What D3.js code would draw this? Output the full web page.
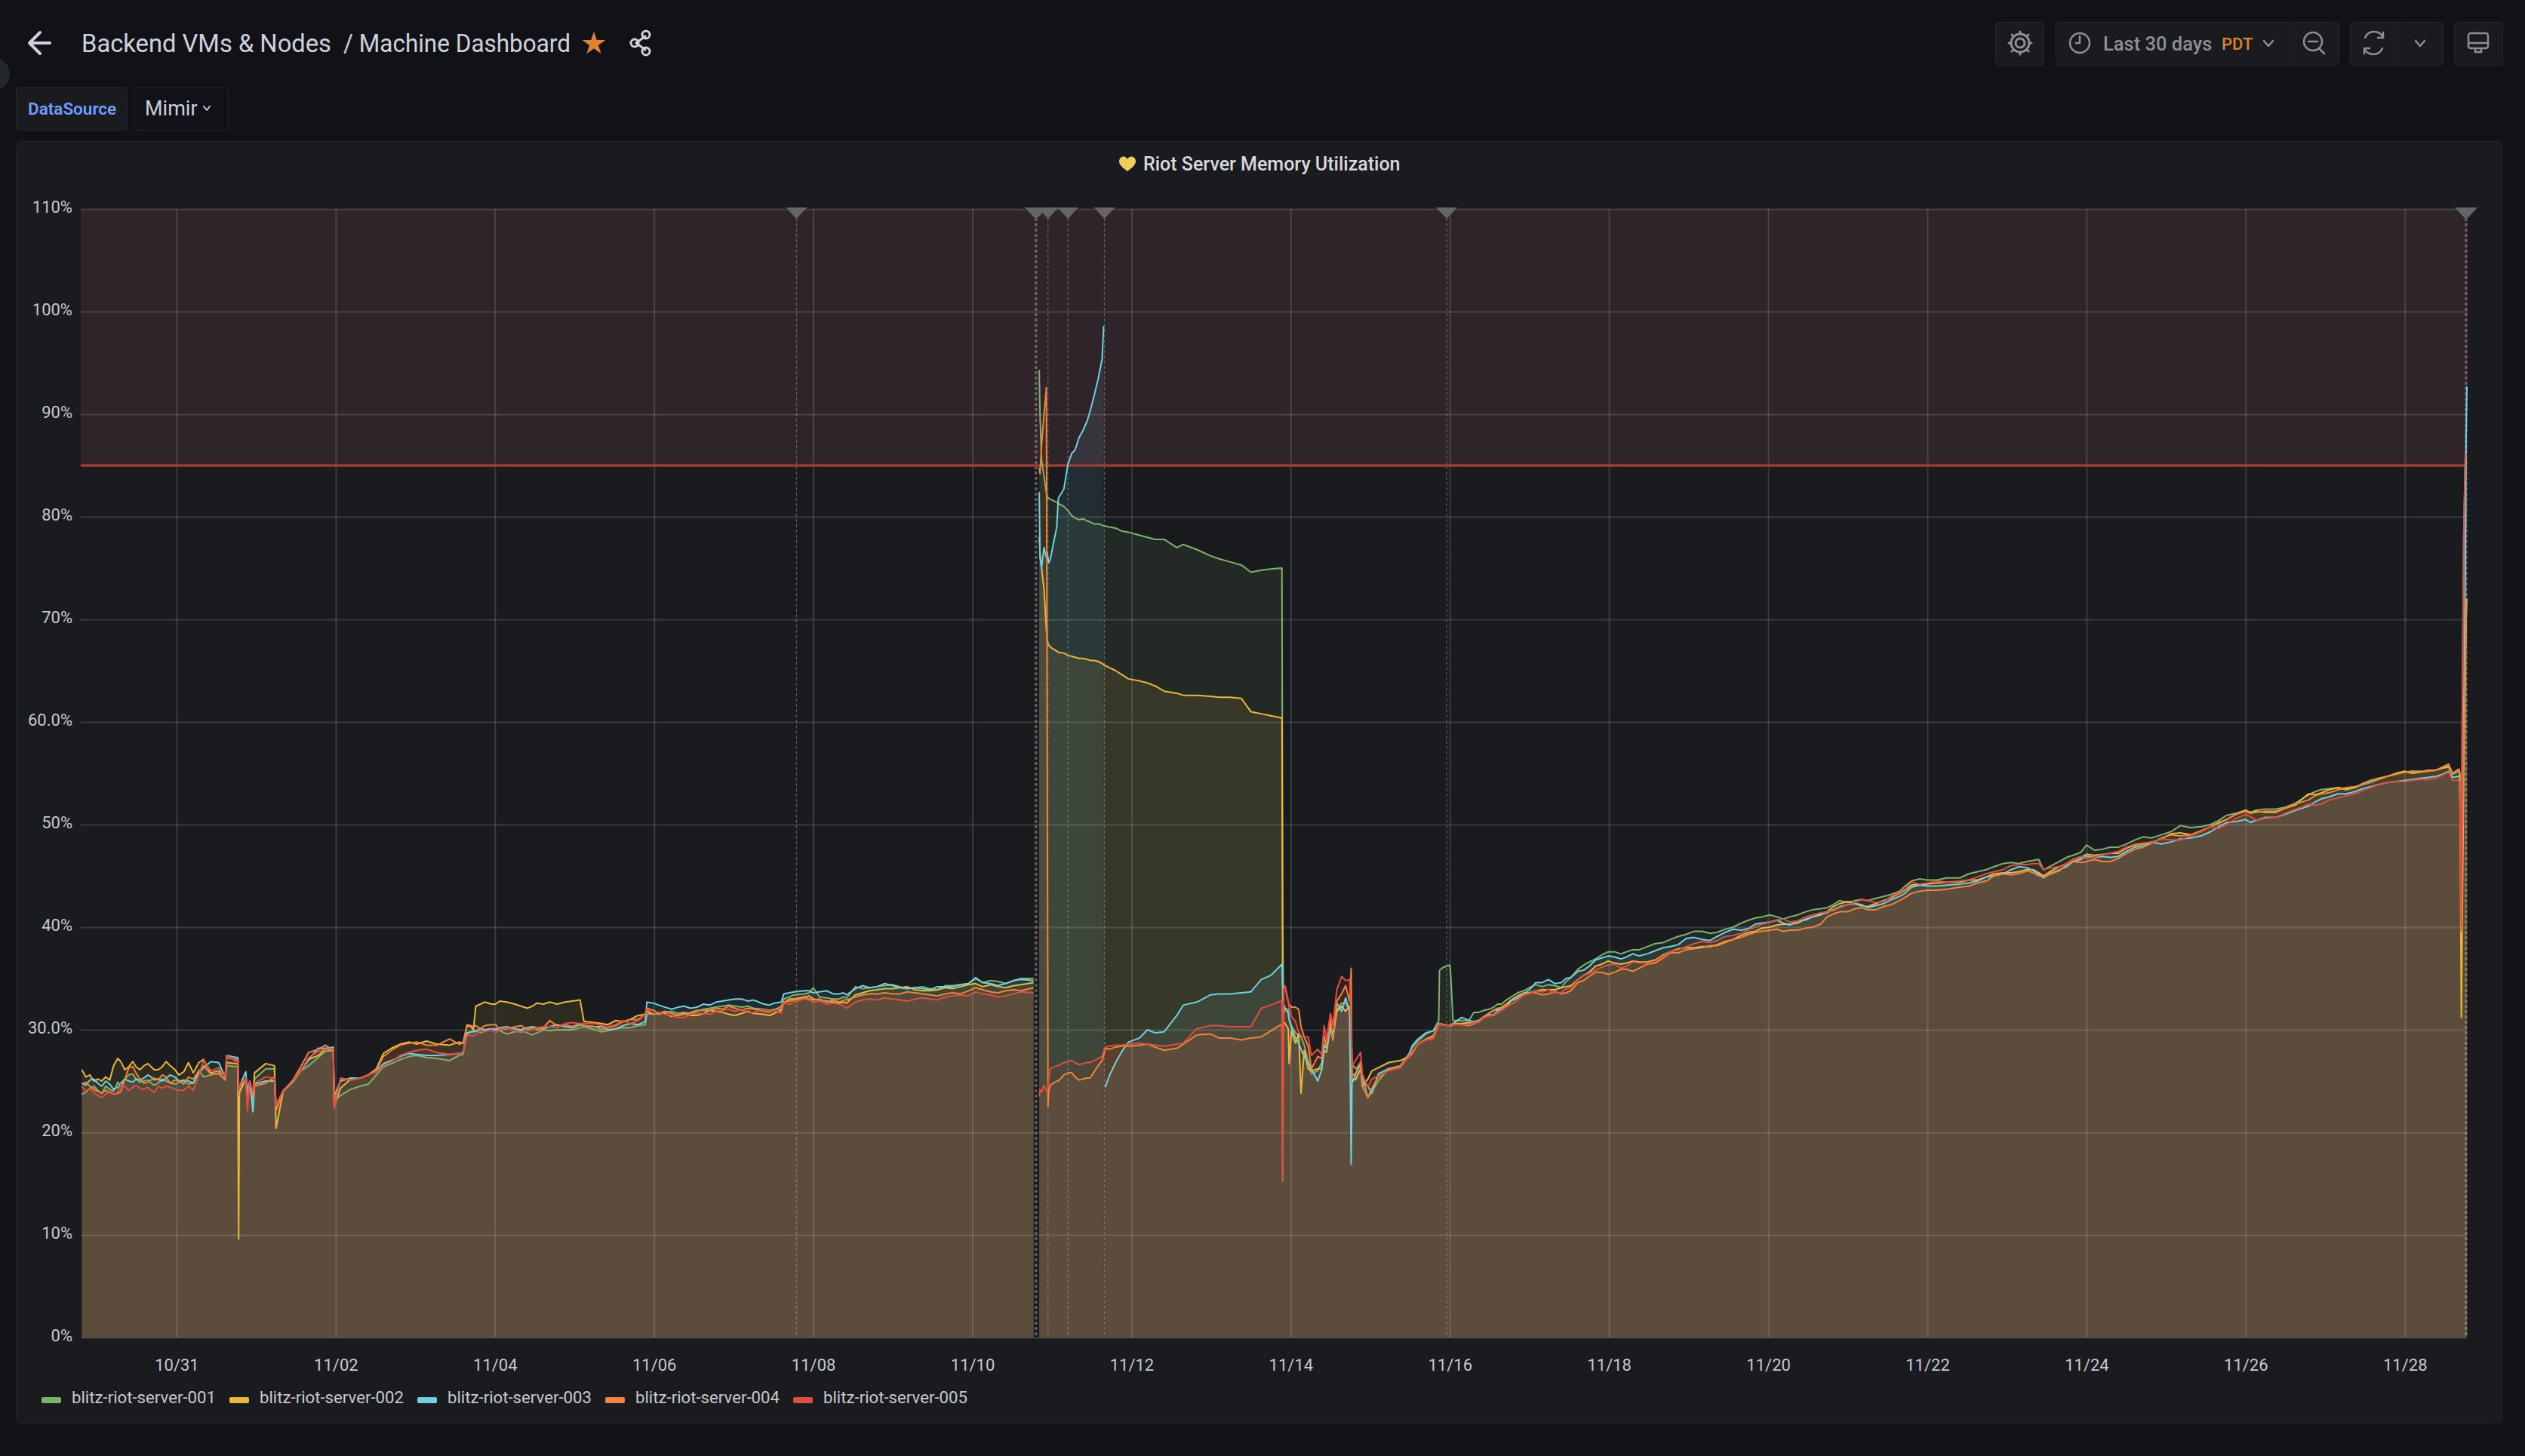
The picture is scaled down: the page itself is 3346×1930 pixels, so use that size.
<!DOCTYPE html>
<html>
<head>
<meta charset="utf-8">
<title>Machine Dashboard</title>
<script src="https://cdnjs.cloudflare.com/ajax/libs/d3/7.8.5/d3.min.js"></script>
<style>
    html, body { margin: 0; padding: 0; background: #111217; overflow: hidden; }
    svg { display: block; }
    text { font-family: Roboto, "Open Sans", sans-serif; }
</style>
</head>
<body>
<svg id="page" width="3346" height="1930"></svg>
<script>
// Days counted from 10/29 00:00, shared by all five servers
const days = [
    0.81, 0.91, 1.01, 1.11, 1.21, 1.3, 1.4, 1.49, 1.59, 1.68,
    1.77, 1.87, 1.98, 2.09, 2.15, 2.21, 2.28, 2.34, 2.43, 2.53,
    2.61, 2.63, 2.75, 2.77, 2.78, 2.79, 2.87, 2.89, 2.92, 2.96,
    2.98, 3.12, 3.23, 3.25, 3.34, 3.47, 3.56, 3.66, 3.78, 3.87,
    3.97, 3.98, 4.06, 4.19, 4.31, 4.41, 4.51, 4.6, 4.7, 4.81,
    4.92, 5.02, 5.14, 5.27, 5.43, 5.55, 5.6, 5.65, 5.7, 5.73,
    5.76, 5.87, 5.96, 6.06, 6.25, 6.41, 6.53, 6.69, 6.88, 7.07,
    7.12, 7.26, 7.42, 7.61, 7.8, 7.89, 7.91, 7.99, 8.14, 8.3,
    8.46, 8.62, 8.78, 8.94, 9.1, 9.25, 9.38, 9.51, 9.6, 9.63,
    9.76, 9.89, 10, 10.08, 10.17, 10.33, 10.42, 10.53, 10.71, 10.9,
    11.09, 11.28, 11.47, 11.66, 11.85, 12.04, 12.23, 12.42, 12.61, 12.77,
    12.82, 12.84, 12.85, 12.87, 12.9, 12.93, 12.94, 12.95, 12.96, 12.98,
    13.06, 13.08, 13.15, 13.2, 13.25, 13.29, 13.34, 13.39, 13.44, 13.48,
    13.53, 13.58, 13.63, 13.65, 13.66, 13.67, 13.72, 13.8, 13.88, 13.96,
    14.1, 14.2, 14.3, 14.41, 14.57, 14.65, 14.82, 14.99, 15.1, 15.24,
    15.38, 15.5, 15.63, 15.75, 15.88, 15.89, 15.9, 15.91, 15.93, 15.97,
    15.98, 16.01, 16.06, 16.1, 16.13, 16.17, 16.22, 16.26, 16.34, 16.39,
    16.42, 16.45, 16.5, 16.53, 16.58, 16.64, 16.69, 16.74, 16.76, 16.77,
    16.82, 16.88, 16.9, 16.97, 17.02, 17.1, 17.23, 17.38, 17.48, 17.53,
    17.6, 17.7, 17.79, 17.86, 17.87, 17.92, 18, 18.01, 18.04, 18.15,
    18.24, 18.3, 18.43, 18.55, 18.65, 18.77, 18.93, 19.08, 19.24, 19.4,
    19.52, 19.61, 19.75, 19.91, 20.07, 20.22, 20.38, 20.58, 20.77, 20.97,
    21.17, 21.36, 21.56, 21.76, 21.92, 22.11, 22.27, 22.47, 22.66, 22.74,
    22.9, 23.09, 23.25, 23.45, 23.65, 23.8, 24, 24.24, 24.41, 24.63,
    24.84, 25.05, 25.25, 25.4, 25.46, 25.66, 25.83, 26, 26.2, 26.4,
    26.61, 26.82, 27.06, 27.31, 27.56, 27.76, 28, 28.13, 28.38, 28.63,
    28.79, 28.95, 29.16, 29.37, 29.57, 29.78, 30, 30.19, 30.39, 30.55,
    30.6, 30.68, 30.69, 30.7, 30.71, 30.72, 30.74, 30.76, 30.77, 30.78,
    // finer readings of the noisy stretches, sorted in later
    0.86, 0.96, 1.06, 1.16, 1.26, 1.35, 1.45, 1.54, 1.64, 1.72,
    1.82, 1.92, 2.03, 5.82, 6.01, 6.15, 6.33, 6.47, 6.61, 6.78,
    6.97, 7.34, 7.52, 7.7, 8.06, 8.22, 8.38, 8.54, 8.7, 8.86,
    9.02, 9.18, 9.45, 9.7, 9.95, 10.25, 10.38, 10.62, 10.8, 11,
    11.18, 11.38, 11.56, 11.75, 11.95, 12.13, 12.32, 12.52, 18.36, 18.49,
    18.6, 18.71, 18.85, 19, 19.16, 19.32, 19.46, 19.68, 19.83, 19.99,
    20.15, 20.3, 20.48, 20.68, 20.87, 21.07, 21.27, 21.46, 21.66, 21.84,
    22.02, 22.19, 22.37, 22.56, 22.82, 23, 23.17, 23.35, 23.55, 23.72,
    23.9, 24.12, 24.52, 24.74, 24.95, 25.15, 25.33, 25.56, 25.75, 25.93,
    26.1, 26.3, 26.5, 26.71, 26.94, 27.18, 27.44, 27.66, 27.88, 28.06,
    28.25, 28.5, 28.71, 28.87, 29.05, 29.26, 29.47, 29.67, 29.89, 30.09,
    30.29, 30.47
];

const server001 = [
    23.7, 24.3, 24.1, 24.5, 24, 24.6, 25.6, 25.2, 25, 24.8,
    24.8, 25, 24.7, 25, 24.7, 24.8, 26, 25.4, 25.6, 25.8,
    25.1, 26.5, 26.4, 26.4, 23.6, 23.8, 25.2, 23.5, 25, 23,
    25.2, 26.2, 26.2, 22.6, 24.1, 25, 26, 26.5, 27.3, 27.9,
    28, 23, 23.6, 24.2, 24.5, 24.7, 25.6, 26.4, 26.7, 27.1,
    27.4, 27.5, 27.3, 27.2, 27, 27.5, 27.6, 29.6, 29.8, 29.9,
    29.9, 29.9, 30, 29.9, 29.8, 29.7, 29.7, 29.9, 30, 30.2,
    30.3, 30, 29.9, 30.2, 30.4, 30.5, 31.5, 31.6, 31.7, 31.6,
    31.6, 32, 32.2, 32.4, 32.2, 32.1, 32, 32, 32, 33,
    33.4, 33.5, 34.1, 33.2, 33.1, 33, 33.1, 34.2, 34.1, 34.3,
    34.2, 34.1, 34, 34.3, 34.4, 35.1, 34.8, 34.5, 35, 35,
    null, 94.3, 90, 85.5, 84, 82.3, 82, 81.9, 81.8, 81.7,
    81.4, 81.3, 81, 80.6, 80.1, 79.9, 79.7, 79.8, 79.6, 79.5,
    79.3, 79.3, 79.2, 79.1, 79.1, 79.1, 79, 78.9, 78.6, 78.5,
    78.2, 78, 77.8, 77.8, 77, 77.3, 76.8, 76.2, 75.9, 75.6,
    75.3, 74.6, 74.8, 74.9, 75, 75, 40, 31.5, 32, 32,
    31, 30.4, 29.7, 29.5, 29.3, 28.5, 26.9, 25.7, 26, 26.8,
    28.6, 28.4, 30.8, 29, 31.9, 32.6, 32.6, 31.9, 31, 26.6,
    26.2, 26.8, 25.5, 23.4, 24, 25, 26.2, 26.5, 27.6, 28.3,
    28.9, 29.6, 29.9, 30.9, 35.8, 36.1, 36.3, 35.5, 30.9, 30.9,
    30.9, 31.7, 31.9, 32.2, 32.5, 33.2, 33.8, 34.4, 34.4, 34.1,
    35.1, 35.9, 36.6, 37.3, 37.6, 37.6, 37.8, 38.4, 38.8, 39.3,
    39.6, 39.5, 40, 40.7, 41, 41, 41, 41.5, 41.8, 41.9,
    42.6, 42.6, 42.6, 43, 43.5, 44.5, 44.6, 44.8, 44.8, 45.4,
    45.9, 46.3, 46.4, 46.6, 45.6, 46.4, 47, 48, 47.6, 47.8,
    48.5, 48.7, 49.3, 49.7, 50, 50.9, 51.4, 51.4, 51.5, 52.1,
    52.9, 53.4, 53.6, 53.6, 54.1, 54.7, 55.1, 55.2, 55.3, 55.8,
    54.9, 55.2, 55, 50, 42, 58, 78, 86, 86, 86,
    23.9, 24.5, 23.8, 24.2, 24.9, 25.2, 25.7, 24.9, 25.1, 24.6,
    25.2, 24.8, 24.9, 29.7, 30.1, 29.6, 29.9, 29.5, 30, 30,
    30, 29.8, 30.1, 30.2, 31.5, 31.8, 31.7, 31.8, 32.1, 32.3,
    32.3, 32.3, 31.9, 33.2, 33.6, 33, 33.2, 34, 34.2, 34.4,
    34, 34.2, 33.9, 34.3, 34.5, 34.6, 34.7, 34.8, 31.7, 32,
    32.5, 32.9, 33.6, 34.1, 34.2, 34.3, 34.7, 36.3, 36.9, 37.6,
    37.4, 37.8, 38.1, 38.5, 39.1, 39.6, 39.4, 39.8, 40.4, 40.9,
    41.2, 40.8, 41.2, 41.7, 42.2, 42.4, 42.7, 42.8, 43.2, 44,
    44.7, 44.6, 45.2, 45.6, 46.2, 46.2, 46.5, 46, 46.8, 47.3,
    47.5, 47.8, 48.1, 48.8, 49, 49.9, 49.8, 50.4, 51.1, 51.2,
    51.5, 51.7, 52.5, 53.2, 53.5, 53.5, 53.9, 54.4, 54.9, 55.2,
    55.2, 55.5
];

const server002 = [
    26.1, 25.6, 25.2, 25.4, 26.5, 26.9, 26.4, 26.4, 26.5, 26.4,
    26.1, 26.9, 26.1, 25.9, 26.8, 25.8, 26.8, 27.1, 25.8, 26,
    25.5, 26.8, 26.7, 26.7, 9.6, 24, 25.3, 24, 24.5, 23.5,
    25.8, 26.7, 26.5, 20.4, 24, 25, 26, 27.1, 27.5, 28.1,
    28, 22.5, 24.3, 25.2, 25.3, 25.6, 26.2, 27.7, 28.2, 28.6,
    28.8, 28.6, 28.9, 28.6, 28.5, 28.8, 28.7, 30.4, 30.3, 30,
    32.3, 32.7, 32.5, 32.8, 32.5, 32.1, 32.6, 32.7, 32.7, 32.9,
    30.8, 30.7, 30.5, 30.8, 31.4, 31.5, 31.8, 31.5, 31.6, 31.4,
    31.4, 31.6, 31.8, 31.5, 31.6, 31.6, 31.5, 31.6, 31.9, 32.6,
    33, 33.2, 33, 32.9, 32.8, 32.6, 32.6, 33.4, 33.8, 34,
    34.1, 33.9, 33.8, 34.1, 34.2, 34.5, 34.4, 34.1, 34.4, 34.6,
    null, 78, 76.5, 75, 73, 69, 68, 67.7, 67.5, 67.3,
    66.9, 66.8, 66.7, 66.5, 66.4, 66.3, 66.2, 66.2, 66.1, 66,
    66, 65.9, 65.7, 65.6, 65.5, 65.5, 65.3, 65, 64.6, 64.2,
    64, 63.8, 63.5, 63, 62.8, 62.6, 62.6, 62.5, 62.4, 62.4,
    62.3, 61, 60.8, 60.6, 60.4, 60.4, 33, 30.8, 30.6, 30.1,
    26.7, 29.9, 28.7, 29.6, 23.8, 28, 26.2, 26, 26.2, 26.2,
    28, 27.8, 30.4, 29.4, 31.8, 32.3, 31.8, 32.3, 31, 25,
    25.2, 26.2, 24.5, 25.2, 26, 26.3, 26.8, 27, 27.4, 27.9,
    28.6, 29.1, 29.4, 30.5, 30.6, 30.5, 30.4, 30.4, 30.6, 30.6,
    30.7, 30.6, 31.3, 31.9, 32.2, 32.9, 33.6, 33.8, 33.9, 34.1,
    34.3, 34.9, 35.6, 36.4, 36.5, 36.5, 36.6, 36.8, 37.6, 38,
    38.1, 38.3, 38.8, 39.5, 39.9, 40.2, 40.3, 40.8, 41.2, 41.5,
    42.3, 42.3, 42, 42.6, 43.3, 44.1, 44.2, 44.4, 44.4, 44.6,
    45.2, 45.3, 45.6, 45.3, 45, 45.9, 46.6, 47.1, 47.1, 47.2,
    48, 48.3, 49.1, 49, 49.8, 50.5, 51.4, 51.3, 51.2, 51.9,
    53, 53.1, 53.6, 53.6, 54.3, 54.7, 55.2, 55.1, 55.3, 55.6,
    55, 55.4, 55, 45, 31.2, 40, 55, 65, 70, 72,
    25.4, 25, 25, 25.1, 27.2, 26.1, 26.9, 26.1, 26.7, 26.1,
    26.4, 26.5, 25.6, 32.5, 32.5, 32.7, 32.3, 32.3, 32.5, 32.5,
    32.8, 30.6, 30.9, 31, 31.7, 31.3, 31.6, 31.4, 31.9, 31.7,
    31.4, 31.8, 31.4, 33, 33.3, 32.7, 32.7, 33.6, 33.9, 34,
    34.2, 33.8, 33.9, 34, 34.4, 34.2, 34.2, 34.3, 30.9, 31.6,
    32, 32.5, 33.3, 33.6, 33.9, 33.9, 34.2, 35.3, 36.2, 36.7,
    36.4, 36.7, 36.6, 37.3, 37.9, 38, 38.1, 38.6, 39.2, 39.6,
    40, 40.3, 40.4, 41, 42, 42.5, 42.1, 42.3, 42.9, 43.6,
    44.2, 44.3, 44.6, 44.9, 45.3, 45.4, 45.6, 45.5, 46.2, 46.8,
    47, 47.2, 47.7, 48.1, 48.6, 49.2, 49.4, 50.2, 51, 51.1,
    51.2, 51.6, 52.5, 52.9, 53.4, 53.4, 54, 54.5, 55, 55,
    55.3, 55.5
];

const server003 = [
    24.8, 25.1, 24.8, 25, 24.2, 24.8, 25, 25.2, 25.3, 25.4,
    25.2, 25.3, 25.4, 25.1, 25, 24.8, 25.8, 26.3, 26.9, 26.8,
    25.4, 27.5, 27.3, 27.3, 24.3, 24.5, 25.9, 24, 25, 22,
    24.7, 25, 25, 22.6, 24, 25.1, 26, 27.1, 28.2, 28.2,
    28.3, 23.5, 25, 25.3, 25.3, 25.6, 26, 26.7, 27, 27.4,
    27.7, 27.6, 27.5, 27.5, 27.6, 27.7, 27.8, 29.7, 29.8, 29.8,
    29.9, 30, 30.1, 30.2, 30.1, 30.2, 30.2, 30.3, 30.3, 30.5,
    30.4, 30.3, 30, 30.4, 30.5, 30.8, 32.7, 32.6, 32.2, 32.2,
    32.1, 32.5, 32.7, 32.9, 33, 32.9, 32.5, 32.6, 32.7, 33.5,
    33.7, 33.8, 33.6, 33.7, 33.8, 33.5, 33.4, 34, 34.1, 34.5,
    34.1, 34.1, 33.9, 34.2, 34.4, 35, 34.5, 34.5, 34.9, 34.8,
    null, 82.4, 76, 75, 77, 76, 76.5, 76, 75.5, 75.9,
    79, 81.8, 82.7, 85.1, 86.2, 86.5, 87.7, 88.4, 89.3, 90.3,
    91.8, 93.4, 95.4, 98.6, null, 24.4, 25.5, 26.8, 27.9, 28.8,
    29.2, 30, 29.7, 29.8, 31.4, 32.4, 32.7, 33.4, 33.5, 33.5,
    33.6, 33.7, 34.9, 35.3, 36.3, 36.4, 34, 32.5, 32.1, 31.6,
    31, 30.2, 29.2, 28.7, 28.1, 27.4, 26.8, 26.2, 25, 26.1,
    28.4, 28.2, 30.1, 29.2, 32.6, 31.8, 33.1, 31.8, 16.9, 24.8,
    25.7, 26.7, 25, 24.5, 23.8, 25.7, 26.2, 26.4, 27.4, 28.5,
    29.1, 29.7, 29.9, 30.4, 30.5, 30.5, 30.4, 30.5, 30.6, 31.2,
    30.9, 30.8, 31.2, 31.4, 32, 32.8, 33.5, 34.6, 34.9, 34.6,
    35.1, 35.7, 36.2, 37, 37.1, 37.1, 37.2, 37.7, 38.1, 38.9,
    38.8, 39.1, 39.8, 39.9, 40.4, 40.7, 40.2, 40.7, 41.3, 41.4,
    42, 42.3, 41.9, 42.3, 43, 43.9, 44, 44.1, 44.2, 44.5,
    45, 45.6, 45.8, 45.2, 44.8, 45.6, 46.4, 46.9, 46.9, 46.9,
    47.8, 48.3, 48.3, 48.7, 49.3, 50.2, 50.5, 50.4, 50.7, 51.4,
    51.8, 52.5, 53, 53.2, 53.7, 54.1, 54.3, 54.5, 54.7, 55.2,
    54.6, 54.7, 54.6, 50, 41, 47, 60, 75, 88, 92.7,
    24.6, 25.2, 24.5, 24.7, 24.4, 25.2, 24.9, 25.1, 25.6, 25.1,
    25, 25.6, 25, 30.1, 30, 30.3, 30, 30.3, 30.1, 30.5,
    30.2, 30.3, 30.1, 30.6, 32.4, 32, 32.3, 32.2, 32.4, 32.8,
    33, 32.8, 32.4, 33.6, 33.8, 33.5, 33.6, 34.3, 34.2, 34.3,
    34, 34, 34.2, 34.2, 34.5, 34.6, 34.3, 34.8, 30.9, 31.5,
    31.9, 32.3, 33.1, 33.9, 34.6, 34.5, 35, 35.8, 36.8, 37.2,
    36.9, 37.4, 37.4, 38, 38.3, 39, 38.7, 39.5, 39.7, 40.3,
    40.5, 40.4, 40.6, 41, 41.7, 42.2, 42.2, 42.1, 42.7, 43.3,
    44.1, 44, 44.3, 44.9, 45.2, 45.9, 45.5, 45.3, 45.9, 46.6,
    46.8, 46.8, 47.4, 47.9, 48.1, 48.6, 48.9, 49.8, 50.3, 50.2,
    50.7, 51, 51.6, 52.2, 52.7, 53, 53.5, 53.9, 54.2, 54.4,
    54.6, 54.9
];

const server004 = [
    24.7, 24.5, 24, 24.1, 23.7, 24, 26.3, 25.8, 24.8, 25.1,
    25.1, 25.4, 25.1, 24.7, 25.4, 25.2, 26, 26.5, 25.7, 25.7,
    25.2, 27.3, 27.1, 27.1, 23.6, 24.5, 25.1, 22.8, 25, 23.5,
    24.5, 24.8, 25.4, 22.1, 24, 25.2, 26.4, 27.8, 28.1, 28.5,
    28, 22.8, 25.2, 25.1, 25.3, 25.6, 26.1, 27.4, 28, 28.5,
    28.7, 28.8, 28.5, 28.5, 29.1, 28.6, 28.7, 30.5, 30.4, 30.3,
    30.4, 30.4, 30.5, 30, 30.3, 30, 30, 30.9, 30.5, 30.6,
    30.4, 30.3, 30.2, 30.8, 31, 31.6, 32.1, 31.9, 31.8, 31.4,
    31.7, 31.9, 32.1, 32.3, 31.9, 32, 31.8, 31.9, 32.3, 32.7,
    32.9, 33.1, 32.9, 33, 32.7, 32.7, 32.9, 33.2, 33.5, 33.6,
    33.5, 33.6, 33.4, 33.5, 33.5, 34.1, 33.7, 33.8, 33.8, 34.1,
    null, 84.8, 84.2, 87, 90, 92.6, 60, 22.5, 24, 24.6,
    25, 25, 25.6, 25.8, 25.8, 25.4, 25.1, 25.2, 25.3, 25.3,
    25.9, 26.5, 27, 27.5, 27.8, 28.2, 28.1, 28.3, 28.4, 28.4,
    28.5, 28.6, 28.3, 28, 28.2, 28.6, 29.5, 29.6, 29.2, 29.2,
    29, 29.2, 29.3, 29.9, 30.5, 30.3, 15.3, 34, 34.2, 32.7,
    32.5, 32.2, 32.2, 32, 30.3, 29.3, 28.4, 26.2, 27.4, 27.2,
    29.4, 28.4, 31, 29, 32.8, 33.5, 34.3, 32.8, 36, 25.5,
    25.8, 26.9, 24.5, 23.4, 24.3, 25.4, 26.1, 26.5, 27.3, 27.7,
    28.6, 29.1, 29.3, 30.6, 30.6, 30.5, 30.4, 30.4, 30.6, 30.5,
    30.4, 30.6, 31.2, 31.9, 32.1, 32.5, 33.4, 33.6, 33.5, 33.5,
    33.8, 34.6, 35.2, 35.6, 35.6, 35.9, 36, 36.5, 37.5, 37.8,
    38, 38.2, 38.8, 39.3, 39.6, 39.8, 39.7, 39.9, 40.3, 41,
    41.5, 41.8, 41.7, 42, 42.6, 43.3, 43.6, 43.7, 43.9, 44.3,
    45, 45.1, 45.5, 45, 44.9, 45.5, 46.4, 46.4, 46.4, 46.7,
    47.6, 48.2, 49, 49, 49.8, 50.5, 51.3, 51.2, 51.3, 52,
    52.4, 53, 53.4, 53.7, 54.3, 54.7, 55.1, 55.1, 55.3, 55.9,
    55, 55.4, 55, 50, 40, 45, 58, 66, 71.9, 71.9,
    24.9, 24.2, 23.8, 23.9, 23.8, 25.2, 26.4, 25.2, 24.9, 25.3,
    25.6, 24.8, 25, 30.1, 30.5, 30.1, 30.4, 30.2, 30.2, 30.4,
    30.3, 30, 30.4, 31, 31.6, 31.6, 31.5, 31.9, 31.9, 32,
    32.1, 32.1, 31.7, 32.8, 33, 32.9, 32.9, 33.4, 33.5, 33.5,
    33.7, 33.5, 33.3, 33.6, 33.8, 33.9, 33.6, 33.9, 30.9, 31.6,
    32.1, 32.4, 32.9, 33.6, 33.4, 33.7, 33.6, 34.8, 35.6, 35.4,
    35.9, 35.7, 36.4, 37, 37.5, 37.9, 38.2, 38.5, 39, 39.5,
    39.7, 39.6, 39.7, 40, 41.3, 41.5, 41.9, 41.7, 42.2, 42.9,
    43.5, 43.6, 44, 44.5, 45.2, 45.2, 45.3, 45.2, 46.1, 46.3,
    46.6, 46.4, 47.2, 47.8, 48.7, 48.9, 49.4, 50.1, 51, 51.1,
    51.3, 51.6, 52.2, 52.8, 53.1, 53.6, 53.9, 54.4, 54.9, 55.2,
    55.2, 55.6
];

const server005 = [
    24.5, 24.3, 23.6, 23.7, 23.7, 24.7, 24.1, 24.6, 24.2, 24.1,
    24.5, 24.5, 24.2, 24.1, 24.5, 24.1, 25.6, 27, 26, 26.3,
    25.4, 27.5, 26.9, 26.9, 24.1, 24.6, 25.3, 22.1, 25, 24,
    24.8, 25.4, 25.3, 22.6, 24.1, 25.1, 26, 27.3, 27.9, 28.1,
    28.1, 22.3, 25.3, 25.1, 25.3, 25.6, 25.9, 26.5, 26.9, 27.5,
    27.8, 28, 28.1, 27.8, 27.6, 27.7, 27.8, 29.4, 29.5, 29.4,
    29.6, 29.8, 30, 30, 29.9, 29.9, 30.2, 30.3, 30.6, 30.6,
    30.6, 30.6, 30.3, 30.9, 30.9, 31.5, 32, 31.6, 31.5, 31.2,
    31.5, 31.6, 31.8, 32, 32, 31.7, 32, 31.9, 31.6, 32.6,
    32.7, 33, 32.7, 32.8, 32.5, 32.5, 32.1, 32.7, 33, 33.1,
    32.9, 33, 33, 33.2, 33.4, 33.7, 33.4, 33.3, 33.7, 33.6,
    null, 23.5, 24.2, 23.9, 24.6, 24, 23.9, 24.5, 25.2, 26.2,
    26.5, 26.5, 26.8, 26.9, 27, 26.8, 26.6, 26.7, 26.8, 26.8,
    27, 27.2, 27.4, 27.9, 28.2, 28.3, 28.4, 28.5, 28.5, 28.6,
    28.7, 28.6, 28.5, 28.4, 28.6, 28.7, 30.1, 30.4, 30.4, 30.3,
    30.3, 30.3, 32.1, 32.4, 32.8, 32.8, 15.4, 34, 34.3, 32.8,
    32.2, 31.3, 30.8, 29.8, 29.4, 29.3, 29.3, 27.5, 28.1, 27.6,
    30.4, 29.1, 31.6, 30.4, 33.9, 35.2, 34.8, 34.9, 30.4, 26.5,
    27.1, 27.8, 25.7, 24.4, 25.2, 25.5, 26, 26.3, 27.4, 27.9,
    28.6, 29, 29.1, 30.4, 30.5, 30.5, 30.4, 30.3, 30.5, 30.5,
    30.5, 30.7, 31.2, 31.5, 31.9, 32.5, 33.4, 33.8, 33.9, 33.6,
    34.1, 34.9, 35.5, 36.1, 36.4, 36.2, 36.5, 36.7, 37.6, 38.1,
    38.6, 38.7, 39.2, 39.8, 40.3, 40.7, 40.5, 41, 41.4, 41.5,
    41.9, 42.4, 42.6, 42.5, 43.4, 44.4, 44.3, 44.4, 44.5, 44.9,
    45.4, 46, 46.1, 46.2, 45.6, 45.9, 46.6, 46.7, 47.1, 47.4,
    48.1, 48.3, 48.5, 48.9, 49.8, 50, 51, 50.4, 50.7, 51.5,
    52, 52, 52.6, 53, 53.6, 54.1, 54.2, 54.4, 54.5, 55.1,
    54.3, 54.3, 54, 48, 39.6, 60, 78, 86, 86, 86,
    24, 23.9, 23.4, 24, 23.9, 24.5, 24.4, 24.3, 24.4, 23.9,
    24.3, 24.4, 24.1, 29.9, 29.7, 30.2, 29.7, 30, 30.3, 30.2,
    30.7, 30.4, 30.5, 30.6, 31.7, 31.4, 31.2, 31.6, 31.5, 31.9,
    31.8, 31.7, 31.8, 32.5, 32.9, 32.6, 32.3, 32.9, 32.9, 33,
    32.8, 33.1, 32.9, 33.3, 33.3, 33.5, 33.2, 33.5, 30.7, 31.3,
    31.6, 32.2, 32.9, 33.5, 33.7, 33.6, 34, 35.3, 35.8, 36.3,
    36, 36.6, 36.5, 37.2, 37.8, 38.4, 38.5, 39.1, 39.4, 40,
    40.5, 40.8, 40.6, 41.2, 41.6, 42.2, 42.7, 42.4, 43, 43.7,
    44.2, 44.5, 44.6, 45.2, 45.6, 46.1, 46.2, 45.8, 46.2, 46.9,
    46.8, 47.2, 47.8, 48.2, 48.6, 48.5, 49.3, 49.6, 50.6, 50.8,
    50.6, 51.1, 51.7, 51.9, 52.4, 52.8, 53.3, 53.9, 54.2, 54.3,
    54.4, 54.8
];

const seriesNames = ['blitz-riot-server-001', 'blitz-riot-server-002', 'blitz-riot-server-003', 'blitz-riot-server-004', 'blitz-riot-server-005'];
const seriesValues = [server001, server002, server003, server004, server005];
const seriesColors = ['#7eb26d', '#eab839', '#6ed0e0', '#ef843c', '#e24d42'];

const yTicks = [0, 10, 20, 30, 40, 50, 60, 70, 80, 90, 100, 110];
const yTickLabels = ['0%', '10%', '20%', '30.0%', '40%', '50%', '60.0%', '70%', '80%', '90%', '100%', '110%'];
const xTickLabels = ['10/31', '11/02', '11/04', '11/06', '11/08', '11/10', '11/12', '11/14', '11/16', '11/18', '11/20', '11/22', '11/24', '11/26', '11/28'];

const thresholdValue = 85;
const rangeDays = [0.796, 30.78];
const annotationDays = [9.79, 12.79, 12.8, 12.81, 12.95, 13.2, 13.66, 17.96, 30.76, 30.77, 30.78];

const yearStart = Date.UTC(2022, 9, 29);
const toDate = d => new Date(yearStart + d * 86400000);
const parseTick = d3.utcParse('%Y/%m/%d');

const svg = d3.select('#page');

drawHeader();
drawChart();
drawLegend();

function drawChart() {
    const left = 107, right = 3269, top = 277, bottom = 1773;

    // Panel behind the plot
    svg.append('rect')
        .attr('x', 21.5).attr('y', 187.5)
        .attr('width', 3294).attr('height', 1699)
        .attr('rx', 6)
        .attr('fill', '#191b1f')
        .attr('stroke', '#22252a');

    svg.append('path')
        .attr('d', 'M0,-6 c-3,-6 -11,-4 -11,3 c0,5 6,9 11,13 c5,-4 11,-8 11,-13 c0,-7 -8,-9 -11,-3z')
        .attr('transform', 'translate(1494,217)')
        .attr('fill', '#f2cc5c');
    svg.append('text')
        .attr('x', 1515).attr('y', 226)
        .attr('font-size', 25).attr('font-weight', 500)
        .attr('fill', '#d8d9da')
        .text('Riot Server Memory Utilization');

    const x = d3.scaleUtc().domain(rangeDays.map(toDate)).range([left, right]);
    const y = d3.scaleLinear().domain([0, 110]).range([bottom, top]);

    const plot = svg.append('g');

    // Threshold band above 85%
    plot.append('rect')
        .attr('x', left).attr('width', right - left)
        .attr('y', y(110)).attr('height', y(thresholdValue) - y(110))
        .attr('fill', '#c8646e').attr('opacity', 0.13);

    const rows = seriesValues.map(values => values
        .map((v, i) => ({ day: days[i], value: v }))
        .sort((a, b) => d3.ascending(a.day, b.day)));

    const area = d3.area()
        .defined(d => d.value !== null)
        .x(d => x(toDate(d.day)))
        .y0(y(0))
        .y1(d => y(d.value));

    const line = d3.line()
        .defined(d => d.value !== null)
        .x(d => x(toDate(d.day)))
        .y(d => y(d.value));

    plot.selectAll('.fill')
        .data(rows)
        .enter()
        .append('path')
        .attr('class', 'fill')
        .attr('d', area)
        .attr('fill', (d, i) => seriesColors[i])
        .attr('opacity', 0.1);

    // Grid comes from the axes
    const yAxis = d3.axisLeft(y)
        .tickValues(yTicks)
        .tickFormat((d, i) => yTickLabels[i])
        .tickSize(-(right - left))
        .tickPadding(11);

    const xAxis = d3.axisBottom(x)
        .tickValues(xTickLabels.map(label => parseTick('2022/' + label)))
        .tickFormat((d, i) => xTickLabels[i])
        .tickSize(-(bottom - top))
        .tickPadding(28);

    const gy = plot.append('g').attr('transform', `translate(${left},0)`).call(yAxis);
    const gx = plot.append('g').attr('transform', `translate(0,${bottom})`).call(xAxis);

    [gy, gx].forEach(g => {
        g.select('.domain').remove();
        g.selectAll('line').attr('stroke', '#d8d9da').attr('stroke-opacity', 0.17).attr('stroke-width', 2);
        g.selectAll('text').attr('font-size', 22).attr('fill', '#c7c8ce');
    });
    gy.selectAll('text').attr('dy', '0.22em');

    // Annotation markers
    plot.selectAll('.annotation')
        .data(annotationDays)
        .enter()
        .append('line')
        .attr('class', 'annotation')
        .attr('x1', d => x(toDate(d))).attr('x2', d => x(toDate(d)))
        .attr('y1', top + 12).attr('y2', bottom)
        .attr('stroke', '#b0b0b0').attr('stroke-opacity', 0.42)
        .attr('stroke-width', 1.3)
        .attr('stroke-dasharray', '4 3');

    plot.selectAll('.annotation-mark')
        .data(annotationDays)
        .enter()
        .append('path')
        .attr('class', 'annotation-mark')
        .attr('d', 'M-14,-2H14L0,13Z')
        .attr('transform', d => `translate(${x(toDate(d))},${top})`)
        .attr('fill', '#656565');

    plot.append('line')
        .attr('x1', left).attr('x2', right)
        .attr('y1', y(thresholdValue)).attr('y2', y(thresholdValue))
        .attr('stroke', '#a33a2e').attr('stroke-width', 3.5);

    plot.selectAll('.series')
        .data(rows)
        .enter()
        .append('path')
        .attr('class', 'series')
        .attr('d', line)
        .attr('fill', 'none')
        .attr('stroke', (d, i) => seriesColors[i])
        .attr('stroke-width', 2)
        .attr('stroke-linejoin', 'round');
}

function drawLegend() {
    const item = svg.selectAll('.legend-item')
        .data(seriesNames)
        .enter()
        .append('g')
        .attr('class', 'legend-item')
        .attr('transform', (d, i) => `translate(${55 + i * 249},1856)`);

    item.append('rect')
        .attr('x', 0).attr('y', -4)
        .attr('width', 26).attr('height', 8).attr('rx', 2)
        .attr('fill', (d, i) => seriesColors[i]);

    item.append('text')
        .attr('x', 40).attr('y', 2).attr('dy', '0.1em')
        .attr('font-size', 22.2)
        .attr('fill', '#c7c8ce')
        .text(d => d);
}

function box(x0, y0, x1, y1, fill) {
    svg.append('rect')
        .attr('x', x0 + 0.5).attr('y', y0 + 0.5)
        .attr('width', x1 - x0).attr('height', y1 - y0)
        .attr('rx', 4)
        .attr('fill', fill)
        .attr('stroke', '#24272c');
}

function icon(d, color, width) {
    svg.append('path')
        .attr('d', d)
        .attr('fill', 'none')
        .attr('stroke', color)
        .attr('stroke-width', width)
        .attr('stroke-linecap', 'round')
        .attr('stroke-linejoin', 'round');
}

function circlePath(cx, cy, r) {
    return `M${cx - r},${cy}a${r},${r} 0 1,0 ${2 * r},0a${r},${r} 0 1,0 ${-2 * r},0`;
}

function label(x, yPos, text, size, color, weight, length) {
    const t = svg.append('text')
        .attr('x', x).attr('y', yPos)
        .attr('font-size', size)
        .attr('font-weight', weight || 400)
        .attr('fill', color)
        .text(text);
    if (length) {
        t.attr('textLength', length).attr('lengthAdjust', 'spacingAndGlyphs');
    }
}

function drawHeader() {
    const chrome = '#8e8e95';

    // Back arrow, breadcrumb, star and share
    icon('M66,57H40M53,43L39,57L53,71', '#d0d1da', 4);
    label(108, 69, 'Backend VMs & Nodes', 33, '#d0d1da', 400, 331);
    label(455, 69, '/ Machine Dashboard', 33, '#d0d1da', 400, 301);
    svg.append('path')
        .attr('d', d3.symbol(d3.symbolStar, 300)())
        .attr('transform', 'translate(787,58)')
        .attr('fill', '#e0822f');
    icon('M843,57L855,48M843,57L855,66' + circlePath(841, 57, 5) + circlePath(856, 46, 5) + circlePath(856, 68, 5), '#d0d1da', 3);

    // Sidebar toggle at the left edge
    svg.append('circle').attr('cx', -9).attr('cy', 98).attr('r', 22).attr('fill', '#23262b');

    // Variable selector
    box(21, 115, 168, 172, '#191b1f');
    label(37, 152, 'DataSource', 22.5, '#6e9fff', 600);
    box(177, 115, 302, 172, '#111217');
    label(192, 153, 'Mimir', 27, '#ccccdc');
    icon('M270,141L274,146L278,141', '#ccccdc', 2);

    // Toolbar on the right
    box(2644, 29, 2708, 86, '#191b1f');
    icon(circlePath(2677, 57, 6) + circlePath(2677, 57, 12) + 'M2677,44v-2M2677,70v2M2664,57h-2M2690,57h2M2668,48l-2,-2M2686,66l2,2M2686,48l2,-2M2668,66l-2,2', chrome, 3);

    box(2724, 29, 3099, 86, '#191b1f');
    svg.append('line').attr('x1', 3035).attr('x2', 3035).attr('y1', 29).attr('y2', 86).attr('stroke', '#24272c');
    icon(circlePath(2756, 57, 13) + 'M2756,48v9h-5', chrome, 2.5);
    label(2787, 67, 'Last 30 days', 25.5, chrome, 500);
    label(2944, 66, 'PDT', 22, '#e0822f', 500);
    icon('M3000,54L3006,61L3012,54', chrome, 2.5);
    icon(circlePath(3065, 55, 12) + 'M3059,55h12M3074,65l6,6', chrome, 2.5);

    box(3114, 29, 3237, 86, '#191b1f');
    svg.append('line').attr('x1', 3177).attr('x2', 3177).attr('y1', 29).attr('y2', 86).attr('stroke', '#24272c');
    icon('M3134,50a13,13 0 0,1 24,0M3158,50v-7M3158,50h-7M3157,64a13,13 0 0,1 -24,0M3133,64v7M3133,64h7', chrome, 2.5);
    icon('M3201,54L3207,61L3213,54', chrome, 2.5);

    box(3252, 29, 3316, 86, '#191b1f');
    icon('M3274,44h20a3,3 0 0,1 3,3v14a3,3 0 0,1 -3,3h-20a3,3 0 0,1 -3,-3v-14a3,3 0 0,1 3,-3zM3271,57h26M3280,64v5h8v-5', chrome, 2.5);
}
</script>
</body>
</html>
